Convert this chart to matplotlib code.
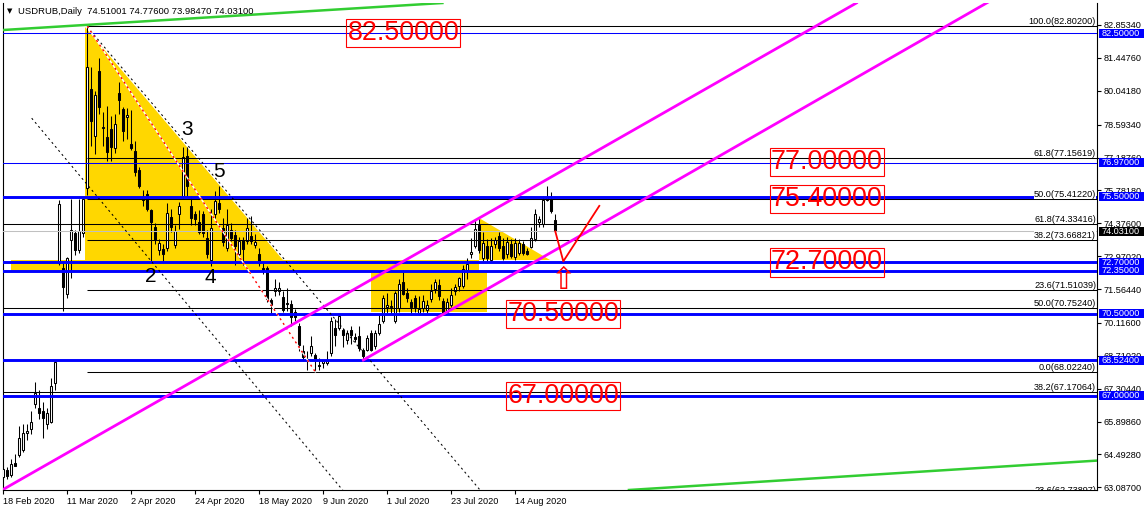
import matplotlib
matplotlib.use("Agg")
import matplotlib.pyplot as plt
import matplotlib.transforms as mtransforms
from matplotlib.patches import Polygon, Rectangle

plt.rcParams['font.family'] = ['Liberation Sans', 'DejaVu Sans']

# ---------------- data ----------------
opens = [63.54, 63.83, 63.61, 64.14, 64.47, 64.68, 65.40, 65.59, 66.64, 66.50,
         66.36, 65.78, 65.90, 67.54, 72.69, 72.47, 71.36, 73.65, 73.98, 73.22,
         73.94, 75.90, 80.13, 78.12, 80.87, 78.45, 78.08, 78.41, 77.58, 79.96,
         79.27, 78.90, 77.75, 77.48, 76.65, 75.37, 75.62, 74.94, 74.22, 73.23,
         73.26, 73.33, 74.65, 73.45, 74.79, 75.55, 77.27, 75.12, 74.77, 74.41,
         74.79, 73.74, 72.79, 74.77, 75.26, 74.16, 73.31, 74.08, 73.88, 73.05,
         73.65, 73.62, 73.83, 73.44, 73.05, 72.45, 72.45, 71.09, 71.47, 71.50,
         71.22, 70.98, 70.93, 70.59, 69.97, 68.93, 68.56, 68.83, 68.76, 68.33,
         68.40, 68.40, 68.83, 69.90, 69.90, 69.83, 69.40, 69.83, 69.50, 69.54,
         68.97, 68.97, 69.69, 69.12, 69.69, 70.19, 70.79, 70.80, 70.19, 70.76,
         71.88, 71.40, 71.02, 71.19, 70.54, 70.76, 70.69, 71.12, 71.55, 71.73,
         71.04, 70.60, 70.87, 71.47, 71.69, 71.69, 72.36, 73.05, 73.41, 74.31,
         72.88, 73.41, 72.79, 73.50, 73.83, 73.41, 73.05, 73.50, 72.93, 73.12,
         73.48, 73.19, 73.36, 73.69, 74.41, 74.34, 75.37, 75.41, 74.51]
highs = [64.11, 63.95, 64.30, 64.52, 65.73, 65.80, 65.80, 66.33, 67.60, 67.26,
         66.73, 66.50, 67.76, 68.50, 75.37, 72.76, 72.92, 75.41, 74.10, 75.40,
         75.41, 82.80, 81.05, 80.05, 81.46, 79.12, 79.41, 78.98, 79.06, 80.41,
         79.34, 79.30, 79.20, 77.90, 76.80, 75.82, 75.82, 75.00, 74.40, 73.70,
         73.50, 75.23, 75.00, 74.30, 75.30, 77.62, 77.62, 75.55, 74.90, 74.95,
         74.90, 74.10, 75.00, 75.77, 75.98, 74.60, 74.98, 74.40, 74.10, 73.80,
         73.80, 74.60, 74.70, 73.90, 73.30, 72.76, 72.55, 71.20, 72.00, 71.85,
         71.50, 71.60, 71.10, 70.70, 70.10, 69.16, 68.90, 69.55, 68.83, 68.60,
         68.55, 68.90, 70.35, 70.30, 70.45, 69.90, 69.80, 70.00, 69.70, 70.00,
         69.04, 69.60, 69.80, 69.80, 70.45, 71.33, 71.40, 71.10, 71.50, 72.00,
         72.37, 71.60, 71.12, 71.30, 71.26, 71.30, 71.10, 71.80, 72.00, 72.00,
         71.20, 71.20, 71.60, 71.80, 72.10, 72.60, 72.90, 73.76, 74.51, 74.55,
         74.00, 73.70, 73.75, 73.80, 74.00, 73.75, 73.80, 73.70, 73.75, 73.70,
         73.60, 73.30, 74.20, 74.98, 74.70, 75.55, 75.98, 75.70, 74.776]
lows = [63.47, 63.45, 63.55, 63.98, 64.40, 64.60, 65.10, 65.35, 66.50, 66.00,
        65.21, 65.60, 65.85, 67.26, 72.60, 70.62, 71.20, 72.02, 73.00, 73.10,
        73.80, 75.60, 77.70, 77.34, 79.06, 77.70, 77.05, 77.05, 77.40, 79.06,
        77.90, 78.00, 77.50, 76.40, 75.90, 75.12, 74.90, 72.69, 73.50, 73.00,
        72.70, 73.20, 74.00, 73.30, 74.12, 75.40, 75.50, 74.30, 74.30, 73.90,
        73.80, 72.90, 72.55, 74.60, 74.80, 73.40, 73.20, 73.60, 72.60, 72.90,
        72.60, 73.50, 73.50, 73.30, 72.55, 72.20, 71.00, 70.50, 71.25, 71.30,
        70.60, 70.63, 69.98, 70.20, 68.90, 68.50, 68.12, 68.70, 68.02, 68.10,
        68.20, 68.30, 68.70, 69.12, 69.80, 69.10, 69.20, 69.20, 69.30, 68.90,
        68.47, 68.90, 68.90, 69.00, 69.60, 70.10, 70.50, 70.50, 70.10, 70.60,
        71.30, 71.00, 70.45, 70.60, 70.45, 70.60, 70.50, 71.00, 71.40, 71.10,
        70.50, 70.50, 70.80, 71.30, 71.50, 71.60, 72.00, 72.90, 73.30, 73.10,
        72.75, 72.75, 72.70, 73.30, 73.20, 72.80, 72.90, 72.90, 72.80, 73.00,
        73.00, 73.00, 73.30, 73.60, 74.20, 74.20, 75.31, 74.80, 73.985]
closes = [63.89, 63.58, 64.08, 64.00, 65.21, 65.40, 65.50, 65.90, 67.11, 66.25,
          66.07, 66.28, 67.40, 68.45, 75.19, 71.65, 72.88, 74.08, 73.22, 74.05,
          75.40, 81.05, 78.77, 79.84, 79.34, 78.50, 77.41, 77.62, 78.63, 79.66,
          78.31, 79.00, 77.60, 76.55, 75.98, 75.50, 74.98, 74.45, 73.65, 73.52,
          73.08, 74.81, 74.22, 74.05, 75.12, 77.19, 75.98, 74.62, 74.55, 74.02,
          73.98, 73.05, 74.16, 75.34, 74.98, 73.59, 74.31, 73.74, 73.41, 73.62,
          73.26, 74.19, 73.62, 73.58, 72.69, 72.39, 71.12, 70.90, 71.60, 71.60,
          70.69, 70.93, 70.36, 70.36, 69.16, 68.64, 68.52, 69.12, 68.59, 68.26,
          68.50, 68.50, 70.19, 69.59, 70.40, 69.59, 69.69, 69.62, 69.45, 69.04,
          68.69, 69.47, 68.97, 69.69, 70.07, 71.19, 70.87, 70.85, 71.40, 71.76,
          71.36, 71.19, 70.79, 70.79, 70.73, 71.04, 70.90, 71.50, 71.88, 71.26,
          70.54, 71.00, 71.33, 71.65, 72.05, 72.41, 72.62, 73.16, 74.12, 73.22,
          73.55, 72.88, 73.41, 73.65, 73.33, 72.88, 73.59, 72.98, 73.55, 73.55,
          73.12, 73.05, 73.76, 74.77, 74.55, 75.37, 75.48, 74.91, 74.031]

date_idx = [0, 16, 32, 48, 64, 80, 96, 112, 128]
date_labels = ['18 Feb 2020', '11 Mar 2020', '2 Apr 2020', '24 Apr 2020', '18 May 2020',
               '9 Jun 2020', '1 Jul 2020', '23 Jul 2020', '14 Aug 2020']
price_ticks = [82.8534, 81.4476, 80.0418, 78.5934, 77.1876, 75.7818, 74.376, 72.9702,
               71.5644, 70.116, 68.7102, 67.3044, 65.8986, 64.4928, 63.087]

blue_levels = [82.5, 76.97, 75.5, 72.7, 72.35, 70.5, 68.524, 67.0]
blue_thick = [False, False, True, True, True, True, True, True]
bid_price = 74.031

fib1_start = 21
fib1_levels = [82.802, 77.15619, 75.4122, 73.66821, 71.51039, 68.0224]
fib1_names = ['100.0', '61.8', '50.0', '38.2', '23.6', '0.0']
fib1_anchor_x = [21, 78]
fib1_anchor_y = [82.802, 68.0224]
fib2_levels = [74.33416, 70.7524, 67.17064, 62.73897]
fib2_names = ['61.8', '50.0', '38.2', '23.6']

green_up = [(0, 82.64), (74.2, 83.42)]
green_lo = [(249.2, 63.97), (273.4, 64.23)]
magenta_up = [(0, 63.0), (140, 76.65)]
magenta_lo = [(90, 68.53), (124.2, 71.88)]
dash_a = [(7.1, 78.87), (84.2, 63.10)]
dash_d = [(21, 82.77), (119.2, 62.97)]

tri_big_x = [20.5, 20.5, 69.9]
tri_big_y = [82.77, 72.80, 72.80]
band_x = [1.9, 119.0]
band_y = [72.30, 72.82]
rect2_x = [91.8, 120.8]
rect2_y = [70.60, 72.35]
pennant_x = [119.0, 119.0, 136.7]
pennant_y = [74.60, 72.80, 72.80]

path_x = [138, 140, 149]
path_y = [74.03, 72.75, 75.12]
arrow_xy = (140, 71.91)

box_labels = ['82.50000', '77.00000', '75.40000', '72.70000', '70.50000', '67.00000']
box_x = [100.0, 205.9, 205.9, 205.9, 140.0, 140.0]
box_y = [82.5, 77.0, 75.4, 72.7, 70.5, 67.0]

wave_labels = ['3', '5', '2', '4']
wave_x = [45.9, 53.8, 36.9, 51.8]
wave_y = [78.40, 76.60, 72.09, 72.07]

header = 'USDRUB,Daily  74.51001 74.77600 73.98470 74.03100'

# ---------------- figure ----------------
W, H = 1148, 511
fig = plt.figure(figsize=(W / 100, H / 100), dpi=100)
fig.patch.set_facecolor('white')
TOP = 3
ax = fig.add_axes([3 / W, 1 - 490 / H, 1094 / W, (490 - TOP) / H])
PX = 23.39  # pixels per price unit
ax.set_xlim(-0.075, 273.425)
ax.set_ylim(82.8534 - 465 / PX, 82.8534 + (25 - TOP) / PX)

GOLD = '#FFD700'
BLUE = '#0000FF'
SMALL = 6.6

# gold areas
ax.add_patch(Polygon(list(zip(tri_big_x, tri_big_y)), closed=True, fc=GOLD, ec='none', zorder=1))
ax.add_patch(Rectangle((band_x[0], band_y[0]), band_x[1] - band_x[0], band_y[1] - band_y[0],
                       fc=GOLD, ec='none', zorder=1))
ax.add_patch(Rectangle((rect2_x[0], rect2_y[0]), rect2_x[1] - rect2_x[0], rect2_y[1] - rect2_y[0],
                       fc=GOLD, ec='none', zorder=1))
ax.add_patch(Polygon(list(zip(pennant_x, pennant_y)), closed=True, fc=GOLD, ec='none', zorder=1))

# candles
for i in range(len(opens)):
    o, h, l, c = opens[i], highs[i], lows[i], closes[i]
    ax.vlines(i, l, h, color='black', lw=0.75, zorder=2.5)
    bull = c >= o
    ax.bar(i, max(abs(c - o), 0.03), bottom=min(o, c), width=0.5,
           color='white' if bull else 'black', edgecolor='black', lw=0.75, zorder=2.6)

xmax = ax.get_xlim()[1]

# fib lines
for lv in fib1_levels:
    ax.hlines(lv, fib1_start, xmax, color='black', lw=0.75, zorder=3)
for lv in fib2_levels:
    ax.hlines(lv, -1, xmax, color='black', lw=0.75, zorder=3)
ax.hlines(bid_price, -1, xmax, color='#C0C0C0', lw=0.75, zorder=3)

# blue horizontal lines
for lv, thick in zip(blue_levels, blue_thick):
    ax.hlines(lv, -1, xmax, color=BLUE, lw=2.1 if thick else 0.75, zorder=3.2)

def extend(p0, p1, x_end):
    s = (p1[1] - p0[1]) / (p1[0] - p0[0])
    return [p0[0], x_end], [p0[1], p0[1] + s * (x_end - p0[0])]

# dashed black lines
for seg in (dash_a, dash_d):
    xs, ys = extend(seg[0], seg[1], seg[1][0] + 30)
    ax.plot(xs, ys, color='black', lw=0.75, dashes=(2, 3), zorder=3.3)

# fib trend (red dotted)
ax.plot(fib1_anchor_x, fib1_anchor_y, color='white', lw=1.0, zorder=3.3)
ax.plot(fib1_anchor_x, fib1_anchor_y, color='red', lw=1.0, dashes=(1.5, 2.5), zorder=3.4)

# green channel
ax.axline(green_up[0], green_up[1], color='#32CD32', lw=1.8, zorder=3.5)
ax.axline(green_lo[0], green_lo[1], color='#32CD32', lw=1.8, zorder=3.5)

# magenta channel
ax.axline(magenta_up[0], magenta_up[1], color='#FF00FF', lw=2.0, zorder=3.6)
xs, ys = extend(magenta_lo[0], magenta_lo[1], xmax + 10)
ax.plot(xs, ys, color='#FF00FF', lw=2.0, zorder=3.6)

# red projection path & arrow
ax.plot(path_x, path_y, color='red', lw=1.3, zorder=4)
ax.text(arrow_xy[0], arrow_xy[1], '\u21E7', fontsize=22, color='red', ha='center', va='center',
        family='DejaVu Sans', zorder=5)

# boxed red labels
for s, x, y in zip(box_labels, box_x, box_y):
    ax.text(x, y, s, fontsize=19.4, color='red', ha='center', va='center', zorder=6,
            bbox=dict(boxstyle='square,pad=0.04', fc='none', ec='red', lw=0.8))

# wave numbers
for s, x, y in zip(wave_labels, wave_x, wave_y):
    ax.text(x, y, s, fontsize=15, color='black', ha='center', va='center', zorder=6)

# fib labels
trans_r = mtransforms.blended_transform_factory(ax.transAxes, ax.transData)
lab_x = (1096 - 3) / 1094
for nm, lv in zip(fib1_names + fib2_names, fib1_levels + fib2_levels):
    ax.text(lab_x, lv, f'{nm}({lv:.5f})', transform=trans_r, ha='right', va='bottom',
            fontsize=SMALL, color='black', zorder=5.5, clip_on=True,
            bbox=dict(boxstyle='square,pad=0.0', fc='white', ec='none'))

# axes styling
ax.spines['top'].set_visible(False)
for side in ('left', 'right', 'bottom'):
    ax.spines[side].set_linewidth(0.8)
ax.yaxis.tick_right()
ax.set_yticks(price_ticks)
ax.set_yticklabels([f'{v:.5f}' for v in price_ticks])
ax.tick_params(axis='y', direction='out', length=3, pad=2, labelsize=SMALL, width=0.8)
ax.set_xticks(date_idx)
ax.set_xticklabels(date_labels, ha='left')
ax.tick_params(axis='x', direction='out', length=3, pad=2, labelsize=SMALL, width=0.8)

# right-axis price boxes
bx0 = (1098.5 - 3) / 1094
bw = 45.5 / 1094
bh = 9.0 / PX
tx = (1102 - 3) / 1094
for lv in blue_levels:
    ax.add_patch(Rectangle((bx0, lv - bh / 2), bw, bh, transform=trans_r, fc=BLUE, ec='none',
                           clip_on=False, zorder=10))
    ax.text(tx, lv, f'{lv:.5f}', transform=trans_r, ha='left', va='center', fontsize=SMALL,
            color='white', clip_on=False, zorder=11)
ax.add_patch(Rectangle((bx0, bid_price - bh / 2), bw, bh, transform=trans_r, fc='black', ec='none',
                       clip_on=False, zorder=10))
ax.text(tx, bid_price, f'{bid_price:.5f}', transform=trans_r, ha='left', va='center',
        fontsize=SMALL, color='white', clip_on=False, zorder=11)

# header
fig.text(18 / W, 1 - 11 / H, header, fontsize=6.8, va='center', ha='left', color='black')
fig.text(9.7 / W, 1 - 11 / H, '\u25BC', fontsize=5, va='center', ha='center', color='black',
         family='DejaVu Sans')

fig.savefig('out.png', dpi=100, facecolor='white')
